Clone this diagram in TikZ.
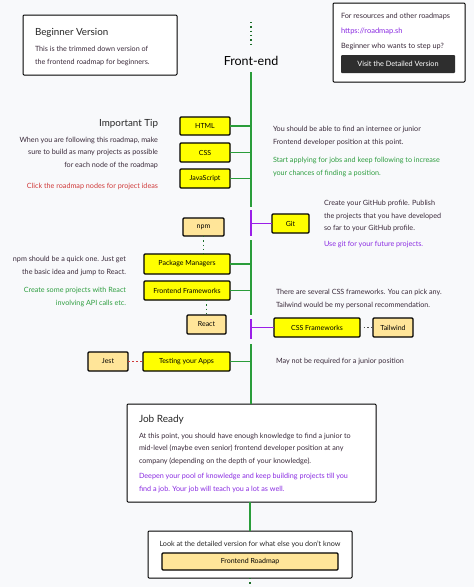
\documentclass[tikz,border=0pt]{standalone}
\usepackage{fontspec}
\setmainfont{Lato}
\definecolor{bg}{HTML}{F8F9FB}
\definecolor{ink}{HTML}{3A2A3A}
\definecolor{spg}{HTML}{2A9D3A}
\definecolor{pur}{HTML}{9B1FE8}
\definecolor{boxy}{HTML}{FFFF00}
\definecolor{boxo}{HTML}{FFE599}
\definecolor{redt}{HTML}{D03A3A}
\definecolor{gtxt}{HTML}{2E9E40}
\definecolor{ptxt}{HTML}{8A2BE2}
\definecolor{darkbtn}{HTML}{2E2E2E}
\begin{document}
\begin{tikzpicture}[x=1pt,y=-1pt,
  every node/.style={inner sep=0pt, outer sep=0pt},
  body/.style={font=\fontsize{7.2}{12.7}\selectfont, text=ink},
  ybox/.style={draw=black, line width=1.1pt, rounded corners=1pt, fill=boxy, font=\fontsize{7}{8}\selectfont, text=black},
  obox/.style={draw=black, line width=1.1pt, rounded corners=1pt, fill=boxo, font=\fontsize{7}{8}\selectfont, text=black},
  card/.style={draw=black, line width=1pt, fill=white, rounded corners=1pt},
  spine/.style={draw=spg, line width=1.6pt},
  pspine/.style={draw=pur, line width=1.6pt},
  dotg/.style={draw=spg!70!black, line width=1.3pt, dash pattern=on 1.3pt off 3pt},
  dotk/.style={draw=black!70, line width=1.1pt, dash pattern=on 1.2pt off 2.5pt},
  dotr/.style={draw=redt, line width=1.1pt, dash pattern=on 1.5pt off 2.5pt},
  heading/.style={font=\fontsize{9.8}{11}\selectfont, text=black!85}
]
\fill[bg] (0,0) rectangle (474,587);
\useasboundingbox (0,0) rectangle (474,587);

% top-left card
\node[card, minimum width=154pt, minimum height=60pt] (beg) at (100,45) {};
\node[heading, anchor=base west] (begt) at (35,35) {Beginner Version};
\node[body, anchor=base west, align=left] (begb) at (35,64) {This is the trimmed down version of\\the frontend roadmap for beginners.};

% top-right card
\node[card, minimum width=132pt, minimum height=79pt] (res) at (399,42.5) {};
\node[body, font=\fontsize{7.3}{8}\selectfont, anchor=base west] (res1) at (341,18) {For resources and other roadmaps};
\node[body, font=\fontsize{7.5}{8}\selectfont, text=ptxt, anchor=base west] (res2) at (341,33.5) {https://roadmap.sh};
\node[body, font=\fontsize{7.3}{8}\selectfont, anchor=base west] (res3) at (341,48.5) {Beginner who wants to step up?};
\node[fill=darkbtn, rounded corners=1pt, minimum width=114pt, minimum height=18pt, text=white, font=\fontsize{7.3}{8}\selectfont] (visit) at (398,64) {Visit the Detailed Version};

% title and spine
\coordinate (td1) at (251,22);
\coordinate (td2) at (251,44);
\draw[dotg] (td1) -- (td2);
\node[font=\fontsize{12.5}{14}\selectfont, text=black] (fe) at (251,61) {Front-end};
\coordinate (s1) at (251,72);
\coordinate (s2) at (251,207);
\coordinate (p1) at (251,210);
\coordinate (p2) at (251,236);
\coordinate (s3) at (251,240);
\coordinate (s4) at (251,315);
\coordinate (p3) at (251,319);
\coordinate (p4) at (251,339);
\coordinate (s5) at (251,344);
\draw[spine] (s1) -- (s2);
\draw[pspine] (p1) -- (p2);
\draw[spine] (s3) -- (s4);
\draw[pspine] (p3) -- (p4);

% HTML/CSS/JS
\node[ybox, minimum width=50pt, minimum height=18pt] (html) at (205,126) {HTML};
\node[ybox, minimum width=50pt, minimum height=19pt] (css) at (205,152.5) {CSS};
\node[ybox, minimum width=50pt, minimum height=19pt] (js) at (205,178.5) {JavaScript};
\draw[spine] (html.east) -- (html.east -| s1);
\draw[spine] (css.east) -- (css.east -| s1);
\draw[spine] (js.east) -- (js.east -| s1);

\node[heading, anchor=base east] (tipt) at (158,126) {Important Tip};
\node[body, anchor=base east, align=right] (tipb) at (158,167.5) {When you are following this roadmap, make\\sure to build as many projects as possible\\for each node of the roadmap};
\node[body, text=redt, anchor=base east] (tipr) at (158,188.5) {Click the roadmap nodes for project ideas};

\node[body, anchor=base west, align=left] (r1) at (273,144) {You should be able to find an internee or junior\\Frontend developer position at this point.};
\node[body, text=gtxt, anchor=base west, align=left] (r2) at (273,175) {Start applying for jobs and keep following to increase\\your chances of finding a position.};

% Git
\node[ybox, minimum width=37pt, minimum height=19pt] (git) at (290.5,223.5) {Git};
\draw[pspine] (git.west) -- (git.west -| p1);
\node[body, anchor=base west, align=left] (gitb) at (324,230.8) {Create your GitHub profile. Publish\\the projects that you have developed\\so far to your GitHub profile.};
\node[body, text=ptxt, anchor=base west] (gitp) at (324,246) {Use git for your future projects.};

% package managers / frameworks
\node[obox, minimum width=41pt, minimum height=18pt] (npm) at (203.5,227) {npm};
\node[ybox, minimum width=86pt, minimum height=20pt] (pm) at (187,264) {Package Managers};
\node[ybox, minimum width=86pt, minimum height=19pt] (ff) at (187,290.5) {Frontend Frameworks};
\node[obox, minimum width=39pt, minimum height=19pt] (react) at (206.5,324.5) {React};
\draw[dotg] (npm.south) -- (npm.south |- pm.north);
\draw[dotg] (react.north |- ff.south) -- (react.north);
\draw[spine] (pm.east) -- (pm.east -| s3);
\draw[spine] (ff.east) -- (ff.east -| s3);
\node[body, anchor=base east, align=right] (npmt) at (126,274.5) {npm should be a quick one. Just get\\the basic idea and jump to React.};
\node[body, text=gtxt, anchor=base east, align=right] (reactt) at (126,305.5) {Create some projects with React\\involving API calls etc.};

% CSS frameworks
\node[ybox, minimum width=86pt, minimum height=19pt] (cssfw) at (317,327.5) {CSS Frameworks};
\node[obox, minimum width=40pt, minimum height=19pt] (tw) at (393,327.5) {Tailwind};
\draw[pspine] (cssfw.west) -- (cssfw.west -| p3);
\draw[dotk] (cssfw.east) -- (tw.west);
\node[body, anchor=base west, align=left] (cssfwt) at (276,307.5) {There are several CSS frameworks. You can pick any.\\Tailwind would be my personal recommendation.};

% testing
\node[ybox, minimum width=87pt, minimum height=19pt] (test) at (186.5,361.5) {Testing your Apps};
\node[obox, minimum width=40pt, minimum height=19pt] (jest) at (108,361.5) {Jest};
\draw[dotr] (jest.east) -- (test.west);
\draw[spine] (test.east) -- (test.east -| s5);
\node[body, anchor=base west] (testt) at (276,363.5) {May not be required for a junior position};

% job ready
\node[card, minimum width=249pt, minimum height=98pt] (job) at (251.5,453) {};
\draw[spine] (s5) -- (s5 |- job.north);
\node[heading, font=\fontsize{10}{11}\selectfont, anchor=base west] (jobt) at (139,422) {Job Ready};
\node[body, anchor=base west, align=left] (jobb) at (139,463.5) {At this point, you should have enough knowledge to find a junior to\\mid-level (maybe even senior) frontend developer position at any\\company (depending on the depth of your knowledge).};
\node[body, text=ptxt, anchor=base west, align=left] (jobp) at (139,491.5) {Deepen your pool of knowledge and keep building projects till you\\find a job. Your job will teach you a lot as well.};

% bottom card
\node[card, minimum width=204pt, minimum height=47pt] (fin) at (250,554.5) {};
\draw[spine] (job.south -| fin.north) -- (fin.north);
\node[body, text=black!85] (fint) at (250,544) {Look at the detailed version for what else you don't know};
\node[obox, minimum width=176pt, minimum height=17pt] (fr) at (250,561.5) {Frontend Roadmap};
\coordinate (bend) at (250,588);
\draw[dotg] (fin.south) -- (bend);
\end{tikzpicture}
\end{document}
